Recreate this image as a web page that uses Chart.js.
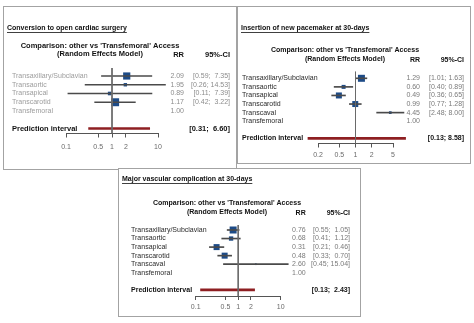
<!DOCTYPE html>
<html>
<head>
<meta charset="utf-8">
<script src="https://cdn.jsdelivr.net/npm/chart.js@4.4.1/dist/chart.umd.min.js"></script>
<style>
  html, body { margin: 0; padding: 0; background: #fff; }
  body { position: relative; width: 474px; height: 323px; overflow: hidden; }
  .panel { position: absolute; box-sizing: border-box; border: 1px solid #a3a3a3; background: #fff; }
  .panel canvas { position: absolute; left: -1px; top: -1px; }
</style>
</head>
<body>
<div class="panel" id="panel1"><canvas id="chart1"></canvas></div>
<div class="panel" id="panel2"><canvas id="chart2"></canvas></div>
<div class="panel" id="panel3"><canvas id="chart3"></canvas></div>
<script>
// Conversion to open cardiac surgery
const title1 = 'Conversion to open cardiac surgery';
const studies1 = ['Transaxillary/Subclavian', 'Transaortic', 'Transapical', 'Transcarotid', 'Transfemoral'];
const rr1 = [2.09, 1.95, 0.89, 1.17, 1.00];
const lower1 = [0.59, 0.26, 0.11, 0.42, null];
const upper1 = [7.35, 14.53, 7.39, 3.22, null];
const weights1 = [36, 8, 9, 44, 0];
const predInterval1 = [0.31, 6.60];
const ticks1 = [0.1, 0.5, 1, 2, 10];

// Insertion of new pacemaker at 30-days
const title2 = 'Insertion of new pacemaker at 30-days';
const studies2 = ['Transaxillary/Subclavian', 'Transaortic', 'Transapical', 'Transcarotid', 'Transcaval', 'Transfemoral'];
const rr2 = [1.29, 0.60, 0.49, 0.99, 4.45, 1.00];
const lower2 = [1.01, 0.40, 0.36, 0.77, 2.48, null];
const upper2 = [1.63, 0.89, 0.65, 1.28, 8.00, null];
const weights2 = [34, 11, 25, 25, 5, 0];
const predInterval2 = [0.13, 8.58];
const ticks2 = [0.2, 0.5, 1, 2, 5];

// Major vascular complication at 30-days
const title3 = 'Major vascular complication at 30-days';
const studies3 = ['Transaxillary/Subclavian', 'Transaortic', 'Transapical', 'Transcarotid', 'Transcaval', 'Transfemoral'];
const rr3 = [0.76, 0.68, 0.31, 0.48, 2.60, 1.00];
const lower3 = [0.55, 0.41, 0.21, 0.33, 0.45, null];
const upper3 = [1.05, 1.12, 0.46, 0.70, 15.04, null];
const weights3 = [34, 13, 25, 25, 2, 0];
const predInterval3 = [0.13, 2.43];
const ticks3 = [0.1, 0.5, 1, 2, 10];

const heading1 = "Comparison: other vs 'Transfemoral' Access";
const heading2 = '(Random Effects Model)';

Chart.defaults.font.family = '"Liberation Sans", Arial, sans-serif';

const FAMILY = '"Liberation Sans", Arial, sans-serif';
const BOX_COLOR = '#1d4b87';
const CI_COLOR = '#4a4a4a';
const PRED_COLOR = '#8e1f22';

// page positions of each panel (px)
const layout1 = {
  box: { left: 3, top: 6, width: 234, height: 164 },
  plotLeft: 66, plotRight: 158, refTop: 68, axisY: 133.5,
  row0: 76, rowGap: 8.75, labelX: 12, rrRight: 184, ciRight: 230,
  titleX: 7, titleY: 28, headCenter: 100, head1Y: 46, head2Y: 53.5,
  tickPad: 5, font: 7, boldFont: 7.5, labelColor: '#9c9c9c', numColor: '#8c8c8c'
};
const layout2 = {
  box: { left: 237, top: 6, width: 234, height: 158 },
  plotLeft: 318, plotRight: 393, refTop: 71.5, axisY: 143.5,
  row0: 78.3, rowGap: 8.58, labelX: 242, rrRight: 420, ciRight: 464,
  titleX: 241, titleY: 28, headCenter: 345, head1Y: 50, head2Y: 59.5,
  tickPad: 3.5, font: 7, boldFont: 7, labelColor: '#2a2a2a', numColor: '#7a7a7a'
};
const layout3 = {
  box: { left: 118, top: 168, width: 243, height: 149 },
  plotLeft: 195.7, plotRight: 280.7, refTop: 225, axisY: 296,
  row0: 230, rowGap: 8.55, labelX: 131, rrRight: 305.7, ciRight: 350,
  titleX: 122, titleY: 179, headCenter: 227, head1Y: 203, head2Y: 212,
  tickPad: 2.5, font: 7, boldFont: 7, labelColor: '#2a2a2a', numColor: '#7a7a7a'
};

function fmtCI(lo, hi, width) {
  return '[' + lo.toFixed(2) + '; ' + hi.toFixed(2).padStart(width, ' ') + ']';
}

function forestPanel(canvasId, title, studies, rr, lower, upper, weights, pred, ticks, L) {
  const box = L.box;
  const canvas = document.getElementById(canvasId);
  canvas.width = box.width;
  canvas.height = box.height;
  const panel = canvas.parentElement;
  panel.style.left = box.left + 'px';
  panel.style.top = box.top + 'px';
  panel.style.width = box.width + 'px';
  panel.style.height = box.height + 'px';

  const predRow = studies.length + 1;
  const axisHeight = 20;
  const yMin = (L.refTop - L.row0) / L.rowGap;
  const yMax = (L.axisY - L.row0) / L.rowGap;
  const hiWidth = Math.max(...upper.filter(v => v != null).concat(pred[1]).map(v => v.toFixed(2).length));

  const ciData = [];
  const boxData = [];
  const boxRadius = [];
  studies.forEach((s, i) => {
    if (lower[i] == null) return;
    ciData.push({ y: i, x: [lower[i], upper[i]] });
    boxData.push({ x: rr[i], y: i });
    // box area follows the study weight
    boxRadius.push(1.2 * Math.sqrt(weights[i]) / (2 * Math.SQRT1_2));
  });

  const textPlugin = {
    id: 'forestText',
    afterDraw(chart) {
      const ctx = chart.ctx;
      const y = chart.scales.y;
      const X = v => v - box.left;
      const Y = v => v - box.top;
      ctx.save();
      ctx.textBaseline = 'middle';

      // panel title, underlined
      ctx.fillStyle = '#111';
      ctx.font = 'bold ' + L.font + 'px ' + FAMILY;
      ctx.textAlign = 'left';
      ctx.fillText(title, X(L.titleX), Y(L.titleY));
      const tw = ctx.measureText(title).width;
      ctx.fillRect(X(L.titleX), Y(L.titleY) + 4, tw, 0.8);

      // column headings
      ctx.font = 'bold ' + L.boldFont + 'px ' + FAMILY;
      ctx.textAlign = 'center';
      ctx.fillText(heading1, X(L.headCenter), Y(L.head1Y));
      ctx.fillText(heading2, X(L.headCenter), Y(L.head2Y));
      ctx.textAlign = 'right';
      ctx.fillText('RR', X(L.rrRight), Y(L.head2Y) + 1);
      ctx.fillText('95%-CI', X(L.ciRight), Y(L.head2Y) + 1);

      // study rows
      studies.forEach((s, i) => {
        const py = y.getPixelForValue(i);
        ctx.font = L.font + 'px ' + FAMILY;
        ctx.textAlign = 'left';
        ctx.fillStyle = L.labelColor;
        ctx.fillText(s, X(L.labelX), py);
        ctx.fillStyle = L.numColor;
        ctx.textAlign = 'right';
        ctx.fillText(rr[i].toFixed(2), X(L.rrRight), py);
        if (lower[i] != null) {
          ctx.fillText(fmtCI(lower[i], upper[i], hiWidth), X(L.ciRight), py);
        }
      });

      // prediction interval row
      const pp = y.getPixelForValue(predRow);
      ctx.fillStyle = '#111';
      ctx.font = 'bold ' + L.boldFont + 'px ' + FAMILY;
      ctx.textAlign = 'left';
      ctx.fillText('Prediction interval', X(L.labelX), pp);
      ctx.textAlign = 'right';
      ctx.fillText(fmtCI(pred[0], pred[1], hiWidth), X(L.ciRight), pp);
      ctx.restore();
    }
  };

  return new Chart(canvas, {
    type: 'scatter',
    data: {
      datasets: [
        {
          type: 'line',
          data: [{ x: 1, y: yMin }, { x: 1, y: yMax }],
          borderColor: '#6a6a6a',
          borderWidth: 1,
          pointRadius: 0
        },
        {
          type: 'bar',
          indexAxis: 'y',
          data: ciData,
          backgroundColor: CI_COLOR,
          barThickness: 1,
          grouped: false,
          clip: false
        },
        {
          type: 'bar',
          indexAxis: 'y',
          data: [{ y: predRow, x: pred }],
          backgroundColor: PRED_COLOR,
          barThickness: 2,
          grouped: false,
          clip: false
        },
        {
          type: 'scatter',
          data: boxData,
          pointStyle: 'rect',
          pointRadius: boxRadius,
          backgroundColor: BOX_COLOR,
          borderWidth: 0,
          clip: false
        }
      ]
    },
    options: {
      responsive: false,
      animation: false,
      events: [],
      layout: {
        padding: {
          left: L.plotLeft - box.left,
          right: box.left + box.width - L.plotRight,
          top: L.refTop - box.top,
          bottom: box.top + box.height - L.axisY - axisHeight
        }
      },
      plugins: { legend: { display: false }, tooltip: { enabled: false } },
      scales: {
        x: {
          type: 'logarithmic',
          min: ticks[0],
          max: ticks[ticks.length - 1],
          offset: false,
          afterBuildTicks: axis => { axis.ticks = ticks.map(v => ({ value: v })); },
          afterFit: axis => { axis.height = axisHeight; },
          grid: { drawOnChartArea: false, tickLength: 4, color: '#555', offset: false },
          border: { color: '#555', width: 1 },
          ticks: {
            padding: L.tickPad,
            color: '#6a6a6a',
            font: { size: L.font },
            autoSkip: false,
            maxRotation: 0,
            callback: v => String(v)
          }
        },
        y: {
          type: 'linear',
          display: false,
          reverse: true,
          offset: false,
          grid: { offset: false },
          min: yMin,
          max: yMax
        }
      }
    },
    plugins: [textPlugin]
  });
}

forestPanel('chart1', title1, studies1, rr1, lower1, upper1, weights1, predInterval1, ticks1, layout1);
forestPanel('chart2', title2, studies2, rr2, lower2, upper2, weights2, predInterval2, ticks2, layout2);
forestPanel('chart3', title3, studies3, rr3, lower3, upper3, weights3, predInterval3, ticks3, layout3);
</script>
</body>
</html>
